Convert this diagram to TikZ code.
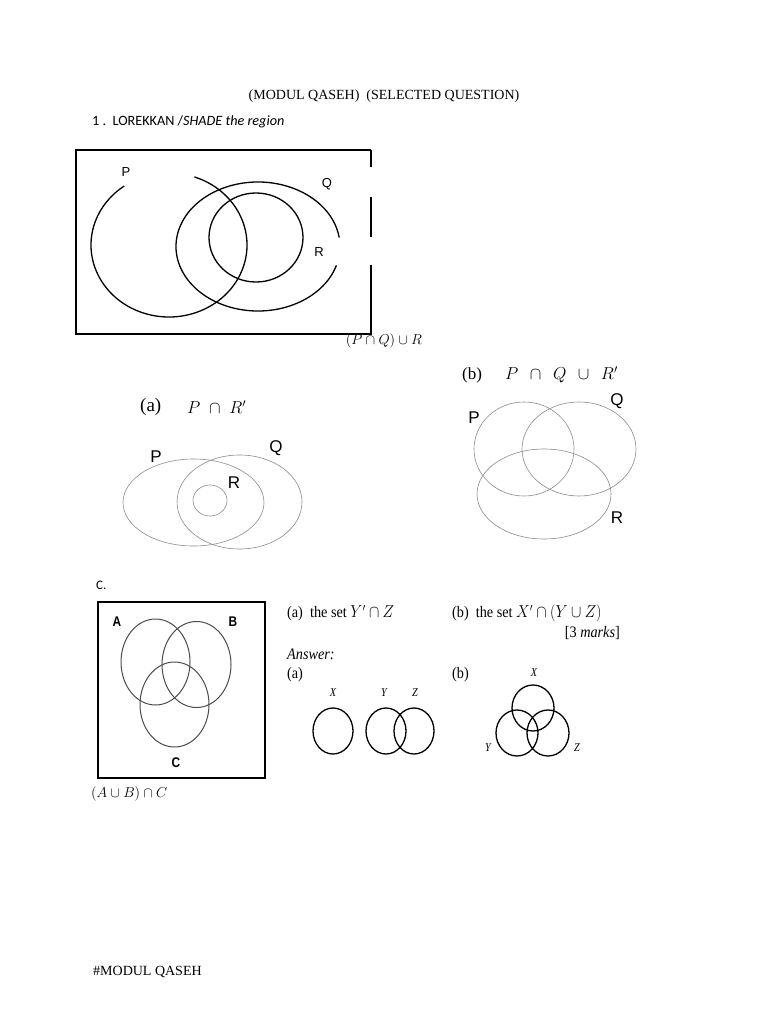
\documentclass[tikz,border=0pt]{standalone}
\usepackage{fontspec}
\setmainfont{Liberation Serif}
\newfontfamily\calfnt{Carlito}
\newfontfamily\arsfnt{Liberation Sans}
\begin{document}
\begin{tikzpicture}[x=1pt,y=-1pt,
  txt/.style={inner sep=0pt},
  lbl/.style={inner sep=0pt,font=\arsfnt\fontsize{13}{15}\selectfont},
  biglbl/.style={inner sep=0pt,font=\arsfnt\fontsize{17}{20}\selectfont},
  boldlbl/.style={inner sep=0pt,font=\arsfnt\bfseries\fontsize{14}{16}\selectfont,xscale=0.85},
  scan/.style={inner sep=0pt,font=\fontsize{16}{18}\selectfont,xscale=0.89},
  small/.style={inner sep=0pt,font=\itshape\fontsize{12}{14}\selectfont,xscale=0.85},
  heavy/.style={line width=1.4pt,black},
  thin/.style={line width=0.6pt,black!45},
  mid/.style={line width=1pt,black!70},
  ink/.style={line width=1.3pt,black}]
\useasboundingbox (0,0) rectangle (768,1024);
\fill[white] (0,0) rectangle (768,1024);

% title
\node[txt,font=\fontsize{14}{17}\selectfont] (title) at (384,96) {(MODUL QASEH)\ \ (SELECTED QUESTION)};
\node[txt,anchor=west,font=\calfnt\fontsize{14.2}{17}\selectfont] (q1) at (92,122) {1 .\ \ LOREKKAN /\textit{SHADE the region}};

% box 1
\draw[heavy] (371,150) -- (76,150) -- (76,334) -- (371,334) -- (371,265);
\draw[heavy] (371,197) -- (371,237);
\draw[heavy] (371,150) -- (371,167);
\draw[ink] (169,245) ++(-431:78 and 72) arc[start angle=-431,end angle=-125,x radius=78,y radius=72];
\draw[ink] (258,246.5) ++(-343:82 and 64.5) arc[start angle=-343,end angle=-8,x radius=82,y radius=64.5];
\draw[ink] (256,237.5) ellipse[x radius=47,y radius=44.5];
\node[lbl] (p1) at (126,172) {P};
\node[lbl] (q1l) at (327,184) {Q};
\node[lbl] (r1) at (319,252) {R};
\node[txt,font=\fontsize{13.5}{16}\selectfont] (f1) at (384,341) {$(P\cap Q)\cup R$};

% (a)
\node[txt,anchor=west,font=\fontsize{19}{22}\selectfont] (alab) at (140,407) {(a)};
\node[txt,anchor=west,font=\fontsize{17}{20}\selectfont] (aform) at (187,407) {$P\;\cap\;R'$};
\draw[thin] (193.5,502.5) ellipse[x radius=70.5,y radius=43.5];
\draw[thin] (239.5,502) ellipse[x radius=62.5,y radius=47];
\draw[thin] (210,500.5) ellipse[x radius=17,y radius=15.5];
\node[biglbl] (pa) at (156,457) {P};
\node[biglbl] (qa) at (276,448) {Q};
\node[biglbl] (ra) at (234,483) {R};

% (b)
\node[txt,anchor=west,font=\fontsize{17}{20}\selectfont] (blab) at (462,375) {(b)};
\node[txt,anchor=west,font=\fontsize{17}{20}\selectfont] (bform) at (505,375) {$P\;\,\cap\;\,Q\;\,\cup\;\,R'$};
\draw[thin] (524,449) ellipse[x radius=50,y radius=47];
\draw[thin] (579,449) ellipse[x radius=57,y radius=47];
\draw[thin] (544,494) ellipse[x radius=67,y radius=45];
\node[biglbl] (pb) at (474,418) {P};
\node[biglbl] (qb) at (617,401) {Q};
\node[biglbl] (rb) at (617,518) {R};

% C.
\node[txt,anchor=west,font=\calfnt\fontsize{13}{15}\selectfont] (clab) at (96,585) {C.};
\draw[line width=1.2pt] (98,602) rectangle (265,778);
\draw[mid] (155.5,662) ellipse[x radius=34.5,y radius=43];
\draw[mid] (196.5,664.5) ellipse[x radius=34.5,y radius=43];
\draw[mid] (174.5,704.5) ellipse[x radius=34.5,y radius=42.5];
\node[boldlbl] (A) at (117,622) {A};
\node[boldlbl] (B) at (233,622) {B};
\node[boldlbl] (C) at (176,763) {C};
\node[txt,anchor=west,font=\fontsize{15}{17}\selectfont] (f3) at (91,794) {$(A\cup B)\cap C$};

% right panel
\node[scan,anchor=west] (ra1) at (287,613) {(a)\ \ the set $Y'\cap Z$};
\node[scan,anchor=west] (rb1) at (452,613) {(b)\ \ the set $X'\cap(Y\cup Z)$};
\node[scan,anchor=east] (marks) at (620,633) {[3 \textit{marks}]};
\node[scan,anchor=west] (ans) at (287,654) {\textit{Answer:}};
\node[scan,anchor=west] (ra2) at (287,675) {(a)};
\node[scan,anchor=west] (rb2) at (452,675) {(b)};
\draw[ink] (333,731) ellipse[x radius=20,y radius=23];
\draw[ink] (386,731) ellipse[x radius=20,y radius=23];
\draw[ink] (414,731) ellipse[x radius=20,y radius=23];
\node[small] (xa) at (333,693) {X};
\node[small] (ya) at (384,693) {Y};
\node[small] (za) at (415,693) {Z};
\draw[ink] (533,708) ellipse[x radius=21,y radius=23];
\draw[ink] (517,733) ellipse[x radius=21,y radius=23];
\draw[ink] (548,733) ellipse[x radius=21,y radius=23];
\node[small] (xb) at (534,673) {X};
\node[small] (yb) at (488,748) {Y};
\node[small] (zb) at (577,748) {Z};

% footer
\node[txt,anchor=west,font=\fontsize{14}{16}\selectfont] (foot) at (93,972) {\#MODUL QASEH};
\end{tikzpicture}
\end{document}
